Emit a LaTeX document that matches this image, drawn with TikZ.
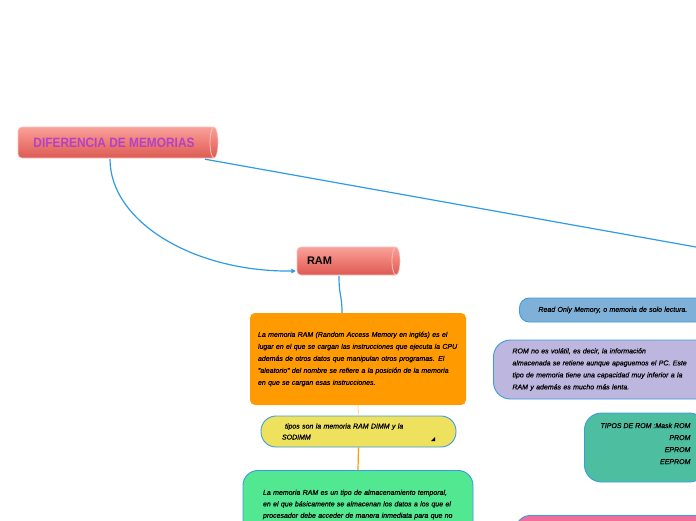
\documentclass[tikz,border=0pt]{standalone}
\usepackage{fontspec}
\setmainfont{Liberation Sans}
\newfontfamily\titlefont[FakeStretch=0.88]{Liberation Sans}
\newfontfamily\handfont[FakeBold=0.6]{Liberation Sans}
\usetikzlibrary{arrows.meta}
\definecolor{connblue}{HTML}{2E9BE4}
\definecolor{boxblue}{HTML}{3C9BE0}
\definecolor{cyltop}{HTML}{F8A29A}
\definecolor{cylmid}{HTML}{EE7C74}
\definecolor{cylbot}{HTML}{DA5B54}
\definecolor{cyledge}{HTML}{FAC4BC}
\definecolor{titlepurple}{HTML}{B142C8}
\definecolor{ramorange}{HTML}{FF9A00}
\definecolor{paleorange}{HTML}{FFD8A8}
\definecolor{yel}{HTML}{EDE15E}
\definecolor{grn}{HTML}{52E791}
\definecolor{romblue}{HTML}{7FB1D8}
\definecolor{lav}{HTML}{BDB6DE}
\definecolor{tealbox}{HTML}{4DBEA0}
\definecolor{pinkbox}{HTML}{F16D9C}
\begin{document}
\begin{tikzpicture}[x=1pt,y=1pt,
  conn/.style={draw=connblue, line width=1.2pt},
  cyl/.style={top color=cyltop, bottom color=cylbot, middle color=cylmid, draw=cyledge, line width=0.6pt},
  cylcap/.style={draw=cyledge, line width=0.8pt},
  boxtext/.style={font=\handfont\fontsize{7}{12}\selectfont\itshape, align=left},
  roundbox/.style={draw=boxblue, line width=0.9pt},
]
\useasboundingbox (0,0) rectangle (696,-520);
\clip (0,0) rectangle (696,-520);

% title cylinder
\shade[cyl] (214,-127) arc[start angle=90,end angle=-90,x radius=4,y radius=15.5] -- (22,-158) arc[start angle=270,end angle=180,radius=4] -- (18,-131) arc[start angle=180,end angle=90,radius=4] -- cycle;
\draw[cylcap] (214,-127) arc[start angle=90,end angle=270,x radius=4,y radius=15.5];
\node[minimum width=200pt, minimum height=31pt, inner sep=0pt, font=\titlefont\bfseries\fontsize{13.5}{14}\selectfont, text=titlepurple] (title) at (118,-142.5) {DIFERENCIA DE MEMORIAS\hspace*{8pt}};

% RAM cylinder
\shade[cyl] (396,-247) arc[start angle=90,end angle=-90,x radius=4,y radius=14] -- (301,-275) arc[start angle=270,end angle=180,radius=4] -- (297,-251) arc[start angle=180,end angle=90,radius=4] -- cycle;
\draw[cylcap] (396,-247) arc[start angle=90,end angle=270,x radius=4,y radius=14];
\node[minimum width=103pt, minimum height=28pt, inner xsep=10pt, inner ysep=0pt, text width=83pt, align=left, font=\bfseries\fontsize{11}{12}\selectfont] (ram) at (348.5,-261) {RAM};

% boxes
\node[boxtext, fill=ramorange, rounded corners=5pt, minimum width=216pt, minimum height=92pt, text width=200pt, inner xsep=8pt] (orange) at (358,-359) {\mbox{La memoria RAM (Random Access Memory en inglés) es el}\\\mbox{lugar en el que se cargan las instrucciones que ejecuta la CPU}\\\mbox{además de otros datos que manipulan otros programas. El}\\\mbox{“aleatorio” del nombre se refiere a la posición de la memoria}\\\mbox{en que se cargan esas instrucciones.}};

\node[boxtext, roundbox, fill=yel, rounded corners=15pt, minimum width=195pt, minimum height=31pt, text width=153pt, inner xsep=21pt, inner ysep=0pt, font=\handfont\fontsize{7}{11}\selectfont\itshape] (types) at (358.5,-431.5) {\hspace*{3pt}tipos son la memoria RAM DIMM y la\\SODIMM};
\fill (431,-441) -- (435,-441) -- (435,-437) -- cycle;

\node[boxtext, roundbox, fill=grn, rounded corners=15pt, anchor=north, minimum width=230pt, text width=190pt, inner xsep=20pt, inner ysep=19.3pt, font=\handfont\fontsize{7}{11.5}\selectfont\itshape] (green) at (358,-470) {\mbox{La memoria RAM es un tipo de almacenamiento temporal,}\\\mbox{en el que básicamente se almacenan los datos a los que el}\\\mbox{procesador debe acceder de manera inmediata para que no}};

\node[boxtext, roundbox, fill=romblue, rounded corners=10pt, anchor=west, minimum width=200pt, minimum height=24pt, text width=162pt, inner xsep=19pt, inner ysep=0pt] (rom) at (519,-310) {\mbox{Read Only Memory, o memoria de solo lectura.}};

\node[boxtext, roundbox, fill=lav, rounded corners=17pt, anchor=west, minimum width=227pt, minimum height=59pt, text width=189pt, inner xsep=19pt, inner ysep=0pt] (volatil) at (493,-369.5) {\mbox{ROM no es volátil, es decir, la información}\\\mbox{almacenada se retiene aunque apaguemos el PC. Este}\\\mbox{tipo de memoria tiene una capacidad muy inferior a la}\\\mbox{RAM y además es mucho más lenta.}};

\node[boxtext, roundbox, fill=tealbox, rounded corners=17pt, anchor=west, minimum width=122pt, minimum height=69pt, inner xsep=10pt, inner ysep=0pt, align=right] (tipos) at (584,-447.5) {TIPOS DE ROM :Mask ROM\\PROM\\EPROM\\EEPROM\\[-4pt]};

\node[roundbox, fill=pinkbox, rounded corners=15pt, anchor=north west, minimum width=200pt, minimum height=40pt] (pinkn) at (515,-515) {};

% connectors
\coordinate (romhub) at (720,-251.3);
\draw[conn, -{Triangle[length=4.5pt,width=4.5pt]}] ([xshift=-8pt,yshift=-1pt]title.south) .. controls +(0,-62) and +(-103,-1) .. ([xshift=-1pt,yshift=-10pt]ram.west);
\draw[conn] ([xshift=87pt,yshift=-1pt]title.south) -- (romhub);
\draw[conn] ([xshift=-9.5pt,yshift=-1pt]ram.south) .. controls +(0,-20) and +(0,18) .. ([xshift=-16pt]orange.north);
\draw[draw=paleorange, line width=1pt] (orange.south) -- (types.north);
\draw[draw=ramorange, line width=1.2pt] (types.south) -- (green.north);
\end{tikzpicture}
\end{document}
